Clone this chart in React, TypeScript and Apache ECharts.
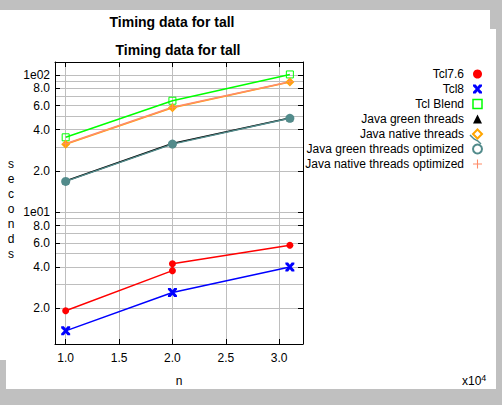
import React, { useEffect, useRef } from 'react';
import * as echarts from 'echarts';

const FONT = '"Liberation Sans", Arial, Helvetica, sans-serif';

// ---- data (x in units of 1e4, y in seconds) ----
const tcl76X = [1.0, 2.0, 2.0, 3.1];
const tcl76Y = [1.92, 3.76, 4.22, 5.75];
const tcl8X = [1.0, 2.0, 3.1];
const tcl8Y = [1.37, 2.61, 4.0];
const nX = [1.0, 2.0, 3.1];
const tclBlendY = [35.2, 65.0, 101];
const javaGreenY = [16.9, 31.7, 48.6];
const javaNativeY = [31.3, 57.8, 88.9];
const javaGreenOptY = [16.8, 31.4, 48.4];
const javaNativeOptY = [31.6, 58.2, 89.4];

const xTicks = [1.0, 1.5, 2.0, 2.5, 3.0];
const yLabelTicks = [2, 4, 6, 8, 10, 20, 40, 60, 80, 100];
const yGridValues = [2, 3, 4, 5, 6, 7, 8, 9, 10, 20, 30, 40, 50, 60, 70, 80, 90, 100];

const X_MIN = 0.9;
const X_MAX = 3.223;
const Y_MIN = 0.041; // log10 space
const Y_MAX = 2.095;

const lg = (v: number) => Math.log10(v);
const pairs = (xs: number[], ys: number[]) => xs.map((x, i) => [x, lg(ys[i])]);

const TEAL = '#528b8b';
const SALMON = '#ff8c69';
const ORANGE = '#ffa500';

const X_PATH = 'path://M0,0 L3,0 L5,2.5 L7,0 L10,0 L10,2 L7,5 L10,8 L10,10 L7,10 L5,7.5 L3,10 L0,10 L0,8 L3,5 L0,2 Z';
const PLUS_PATH = 'path://M4.4,0 H5.6 V4.4 H10 V5.6 H5.6 V10 H4.4 V5.6 H0 V4.4 H4.4 Z';

export default function App() {
  const ref = useRef<HTMLDivElement>(null);

  useEffect(() => {
    const chart = echarts.init(ref.current!, null, { renderer: 'svg', width: 502, height: 405 });

    const yLabelFmt = (val: number) => {
      const v = Math.pow(10, val);
      if (Math.abs(v - 10) < 1e-6) return '1e01';
      if (Math.abs(v - 100) < 1e-6) return '1e02';
      const m = v / Math.pow(10, Math.floor(val + 1e-9));
      return m.toFixed(1);
    };

    const labelStyle = { color: '#000', fontFamily: FONT, fontSize: 12 };
    const blackLine = { show: true, onZero: false, lineStyle: { color: '#000', width: 1 } };

    const option: any = {
      animation: false,
      backgroundColor: 'transparent',
      grid: { left: 55, top: 62, right: 199, bottom: 61, containLabel: false, outerBoundsMode: 'none' },
      xAxis: [
        {
          type: 'value', position: 'bottom', min: X_MIN, max: X_MAX,
          axisLine: blackLine,
          axisTick: { show: true, inside: true, length: 5, customValues: xTicks, lineStyle: { color: '#000' } },
          axisLabel: { ...labelStyle, margin: 8, customValues: xTicks, formatter: (v: number) => v.toFixed(1) },
          splitLine: { show: true, lineStyle: { color: '#bebebe', width: 1 } },
        },
        {
          type: 'value', position: 'top', min: X_MIN, max: X_MAX,
          axisLine: blackLine,
          axisTick: { show: true, inside: true, length: 5, customValues: xTicks, lineStyle: { color: '#000' } },
          axisLabel: { show: false },
          splitLine: { show: false },
        },
      ],
      yAxis: [
        {
          type: 'value', position: 'left', min: Y_MIN, max: Y_MAX,
          axisLine: { show: false },
          axisTick: { show: false, customValues: yGridValues.map(lg) },
          axisLabel: { show: false },
          splitLine: { show: true, lineStyle: { color: '#bebebe', width: 1 } },
        },
        {
          type: 'value', position: 'left', min: Y_MIN, max: Y_MAX,
          axisLine: blackLine,
          axisTick: { show: true, inside: true, length: 5, customValues: yLabelTicks.map(lg), lineStyle: { color: '#000' } },
          axisLabel: { ...labelStyle, margin: 5, customValues: yLabelTicks.map(lg), formatter: yLabelFmt },
          splitLine: { show: false },
        },
        {
          type: 'value', position: 'right', min: Y_MIN, max: Y_MAX,
          axisLine: blackLine,
          axisTick: { show: true, inside: true, length: 5, customValues: yLabelTicks.map(lg), lineStyle: { color: '#000' } },
          axisLabel: { show: false },
          splitLine: { show: false },
        },
      ],
      legend: {
        orient: 'vertical', right: 14, top: 63, align: 'right',
        itemGap: 3, itemWidth: 9, itemHeight: 9, selectedMode: false,
        textStyle: { color: '#000', fontFamily: FONT, fontSize: 12, padding: [0, 4, 0, 0] },
        data: [
          { name: 'Tcl7.6', icon: 'circle', itemStyle: { color: '#ff0000' } },
          { name: 'Tcl8', icon: X_PATH, itemStyle: { color: '#0000ff' } },
          { name: 'Tcl Blend', icon: 'rect', itemStyle: { color: '#ffffff', borderColor: '#00ff00', borderWidth: 1.5 } },
          { name: 'Java green threads', icon: 'triangle', itemStyle: { color: '#000000' } },
          { name: 'Java native threads', icon: 'diamond', itemStyle: { color: '#ffffff', borderColor: ORANGE, borderWidth: 2 } },
          { name: 'Java green threads optimized', icon: 'circle', itemStyle: { color: '#ffffff', borderColor: TEAL, borderWidth: 2 } },
          { name: 'Java native threads optimized', icon: PLUS_PATH, itemStyle: { color: SALMON } },
        ],
      },
      series: [
        {
          name: 'Tcl7.6', type: 'line', data: pairs(tcl76X, tcl76Y), yAxisIndex: 1,
          symbol: 'circle', symbolSize: 7,
          itemStyle: { color: '#ff0000' }, lineStyle: { color: '#ff0000', width: 1.5 },
        },
        {
          name: 'Tcl8', type: 'line', data: pairs(tcl8X, tcl8Y), yAxisIndex: 1,
          symbol: X_PATH, symbolSize: 9,
          itemStyle: { color: '#0000ff' }, lineStyle: { color: '#0000ff', width: 1.5 },
        },
        {
          name: 'Tcl Blend', type: 'line', data: pairs(nX, tclBlendY), yAxisIndex: 1,
          symbol: 'rect', symbolSize: 7,
          itemStyle: { color: 'rgba(255,255,255,0)', borderColor: '#00ff00', borderWidth: 1 },
          lineStyle: { color: '#00ff00', width: 1.5 },
        },
        {
          name: 'Java green threads', type: 'line', data: pairs(nX, javaGreenY), yAxisIndex: 1,
          symbol: 'triangle', symbolSize: 7,
          itemStyle: { color: '#000000' }, lineStyle: { color: '#000000', width: 1.5 },
        },
        {
          name: 'Java native threads', type: 'line', data: pairs(nX, javaNativeY), yAxisIndex: 1,
          symbol: 'diamond', symbolSize: 9,
          itemStyle: { color: ORANGE }, lineStyle: { color: ORANGE, width: 1.5 },
        },
        {
          name: 'Java green threads optimized', type: 'line', data: pairs(nX, javaGreenOptY), yAxisIndex: 1,
          symbol: 'circle', symbolSize: 9,
          itemStyle: { color: TEAL }, lineStyle: { color: TEAL, width: 1.5 },
        },
        {
          name: 'Java native threads optimized', type: 'line', data: pairs(nX, javaNativeOptY), yAxisIndex: 1,
          symbol: PLUS_PATH, symbolSize: 7,
          itemStyle: { color: SALMON }, lineStyle: { color: SALMON, width: 1.5 },
        },
      ],
      graphic: [
        {
          type: 'text', x: 172, y: 22,
          style: { text: 'Timing data for tall', font: `bold 14px ${FONT}`, fill: '#000', align: 'center', verticalAlign: 'middle' },
        },
        {
          type: 'text', x: 178, y: 50,
          style: { text: 'Timing data for tall', font: `bold 14px ${FONT}`, fill: '#000', align: 'center', verticalAlign: 'middle' },
        },
        {
          type: 'text', x: 11, y: 156,
          style: { text: 's\ne\nc\no\nn\nd\ns', font: `12px ${FONT}`, lineHeight: 15, fill: '#000', align: 'center', verticalAlign: 'top' },
        },
        {
          type: 'text', x: 179, y: 381,
          style: { text: 'n', font: `12px ${FONT}`, fill: '#000', align: 'center', verticalAlign: 'middle' },
        },
        {
          type: 'text', x: 462, y: 381,
          style: {
            text: 'x10{s|4}', font: `12px ${FONT}`, fill: '#000', align: 'left', verticalAlign: 'middle',
            rich: { s: { fontSize: 9, fontFamily: FONT, fill: '#000', verticalAlign: 'top', padding: [0, 0, 6, 0] } },
          },
        },
        {
          type: 'polyline',
          shape: { points: [[470, 135], [474, 139], [478, 141], [481, 144]] },
          style: { stroke: TEAL, lineWidth: 1.5, fill: 'none' },
        },
      ],
    };

    chart.setOption(option);
    return () => chart.dispose();
  }, []);

  return (
    <div style={{ position: 'fixed', left: 0, top: 0, width: 502, height: 405, background: '#c0c0c0', overflow: 'hidden' }}>
      <div style={{ position: 'absolute', left: 0, top: 10, width: 490, height: 350, background: '#ffffff' }} />
      <div style={{ position: 'absolute', left: 6, top: 29, width: 490, height: 360, background: '#ffffff' }} />
      <div ref={ref} style={{ position: 'absolute', left: 0, top: 0, width: 502, height: 405 }} />
    </div>
  );
}
